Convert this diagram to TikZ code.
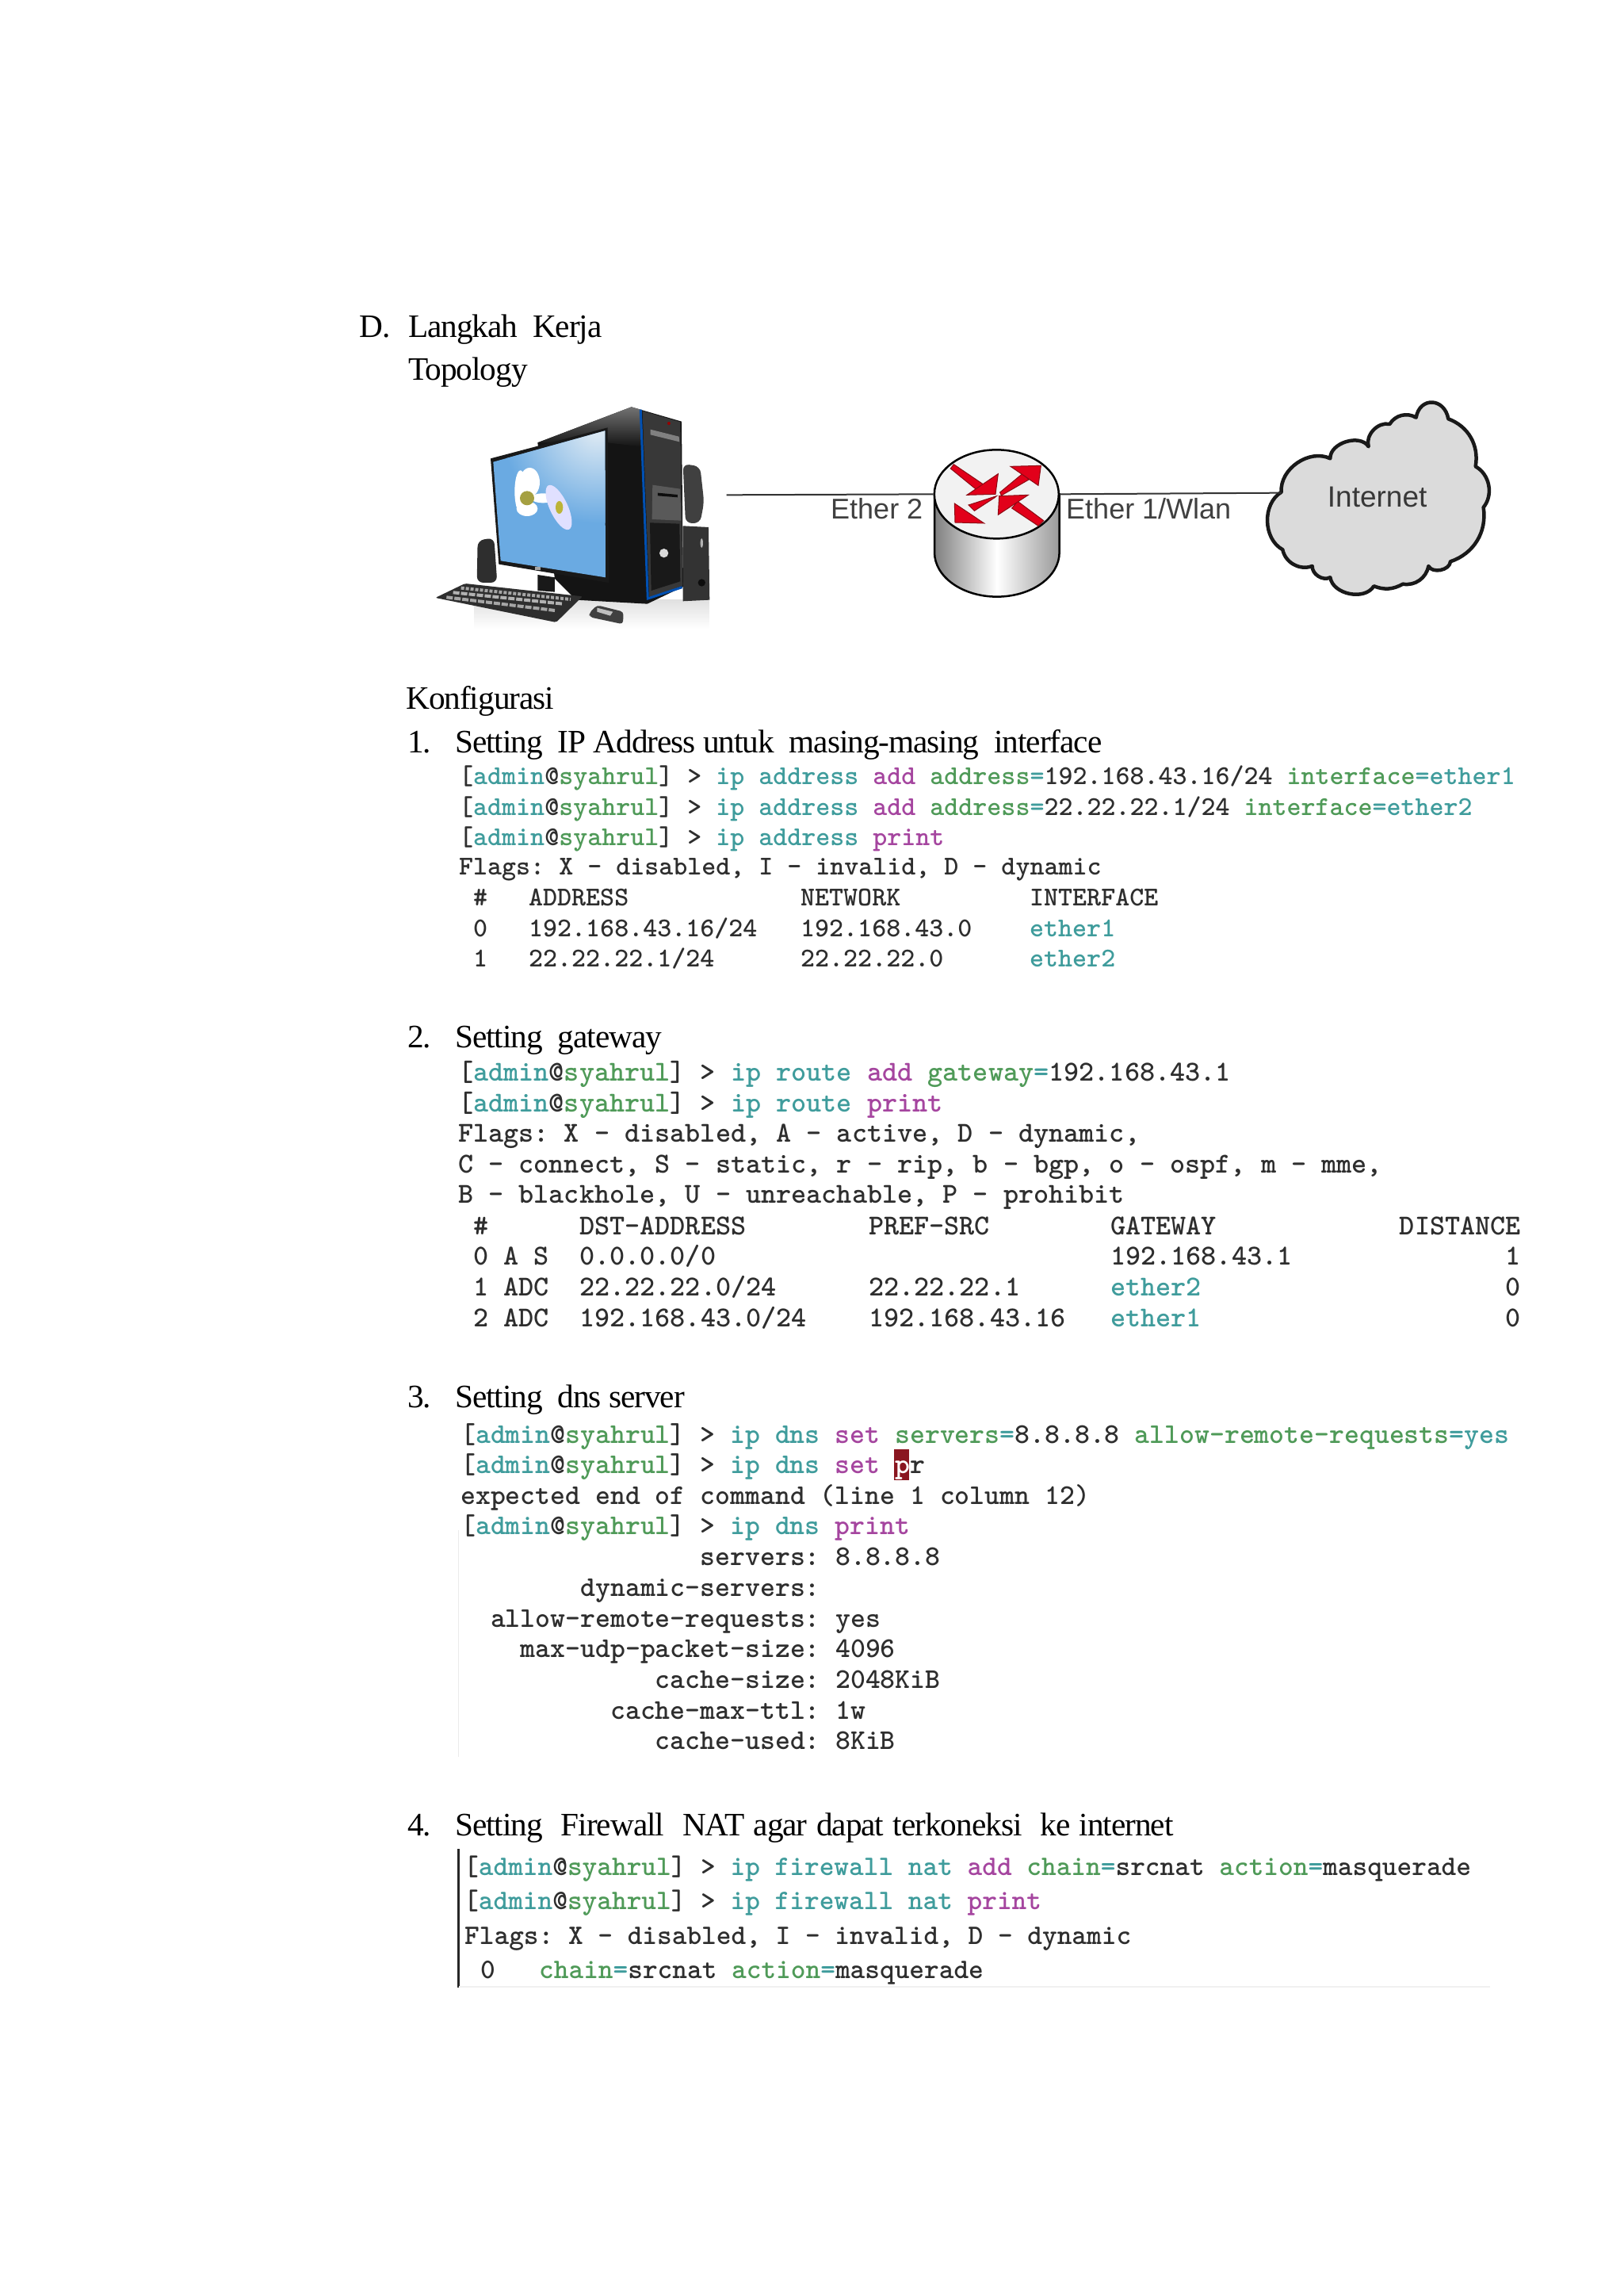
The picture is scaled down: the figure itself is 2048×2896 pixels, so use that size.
\documentclass[tikz,border=0pt]{standalone}
\usepackage{fontspec}
\setmainfont{Liberation Serif}[LetterSpace=-2.5]
\newfontfamily\labelfont{Liberation Sans}
\usetikzlibrary{shapes.geometric, arrows.meta}
\definecolor{scrteal}{HTML}{3F9C9C}
\definecolor{scrgreen}{HTML}{4F9A58}
\definecolor{scrpurple}{HTML}{A5459F}
\definecolor{scrdark}{HTML}{2E2E2E}
\definecolor{routerred}{HTML}{E2001A}
\definecolor{routerdark}{HTML}{8C0A14}
\definecolor{cursorred}{HTML}{8A1620}
\definecolor{screenblue}{HTML}{6AAAE2}
\definecolor{screenpale}{HTML}{E2ECF4}
\newcommand{\prm}{\textcolor{scrdark}{[}\textcolor{scrteal}{admin}\textcolor{scrdark}{@}\textcolor{scrgreen}{syahrul}\textcolor{scrdark}{]~>}~}
\newcommand{\tl}[1]{\textcolor{scrteal}{#1}}
\newcommand{\gr}[1]{\textcolor{scrgreen}{#1}\textcolor{scrteal}{=}}
\newcommand{\pu}[1]{\textcolor{scrpurple}{#1}}
\tikzset{
    bodytxt/.style={anchor=base west, inner sep=0pt, font=\fontsize{41.3}{48}\selectfont},
    scrone/.style={anchor=base west, inner sep=0pt, text=scrdark, font=\ttfamily\bfseries\fontsize{34.3}{40}\selectfont},
    scrtwo/.style={anchor=base west, inner sep=0pt, text=scrdark, font=\ttfamily\bfseries\fontsize{36.4}{42}\selectfont},
    scrthree/.style={anchor=base west, inner sep=0pt, text=scrdark, font=\ttfamily\bfseries\fontsize{36}{42}\selectfont},
    scrfour/.style={anchor=base west, inner sep=0pt, text=scrdark, font=\ttfamily\bfseries\fontsize{35.6}{42}\selectfont},
    toplabel/.style={anchor=base west, inner sep=0pt, text=black!75, font=\labelfont\fontsize{36}{42}\selectfont},
    zoomed/.style={x=0.3333pt, y=-0.3333pt},
    link/.style={line width=2pt, black!80}
}
\begin{document}
\frenchspacing
\begin{tikzpicture}[x=1pt, y=-1pt]
    \useasboundingbox (0,0) rectangle (2048,2896);
    \fill[white] (0,0) rectangle (2048,2896);

    \node[bodytxt] (secd) at (453,425) {D.};
    \node[bodytxt] (langkah) at (515,425) {Langkah\ \ Kerja};
    \node[bodytxt] (topology) at (515,479) {Topology};

    % computer
    \begin{scope}[shift={(540,500)}, zoomed]
        \shade[top color=black!12, bottom color=white] (175,770) rectangle (1065,880);
        \fill[black!75, rounded corners=8pt] (965,255) -- (1030,265) -- (1045,400) -- (1030,480) -- (975,480) -- cycle;
        \fill[black!80] (965,490) -- (1062,495) -- (1066,770) -- (965,775) -- cycle;
        \fill[black!95] (1036,705) circle (14);
        \fill[black!30] (1036,555) ellipse (5 and 18);
        \fill[black!92] (415,175) -- (770,40) -- (960,95) -- (966,720) -- (830,785) -- (560,770) -- (480,690) -- cycle;
        \shade[top color=black!55, bottom color=black!92] (415,175) -- (770,40) -- (805,50) -- (805,190) -- (680,175) -- cycle;
        \fill[black!78] (812,55) -- (955,97) -- (964,716) -- (838,762) -- cycle;
        \draw[line width=3pt, blue!55!cyan!70!black] (805,50) -- (832,765) -- (962,722);
        \fill[black!50] (842,125) -- (950,152) -- (952,172) -- (842,145) -- cycle;
        \fill[black!65] (850,335) -- (955,350) -- (958,470) -- (848,465) -- cycle;
        \fill[black!95] (870,365) -- (945,372) -- (945,382) -- (870,376) -- cycle;
        \fill[black!90] (840,478) -- (952,482) -- (955,700) -- (845,735) -- cycle;
        \fill[black!15] (893,593) circle (17);
        \fill[red!60!black] (912,102) circle (6);
        \fill[black!90] (237,235) -- (680,118) -- (684,705) -- (268,635) -- cycle;
        \begin{scope}
            \clip (247,248) -- (670,130) -- (672,685) -- (275,622) -- cycle;
            \fill[screenblue] (240,120) rectangle (680,700);
            \shade[inner color=screenpale, outer color=screenblue] (640,120) circle (360);
        \end{scope}
        \fill[white] (385,325) ellipse (38 and 55);
        \fill[white] (435,385) ellipse (45 and 18);
        \fill[white] (350,360) ellipse (22 and 80);
        \fill[white] (375,425) ellipse (40 and 28);
        \fill[white!88!blue, rotate around={25:(495,420)}] (495,420) ellipse (34 and 92);
        \fill[yellow!60!black] (375,385) circle (27);
        \fill[yellow!70!black] (497,420) ellipse (14 and 24);
        \fill[black!35] (405,646) rectangle (425,656);
        \fill[black!90] (415,675) -- (480,685) -- (480,740) -- (415,735) -- cycle;
        \fill[black!82, rounded corners=8pt] (188,545) -- (250,535) -- (262,705) -- (185,705) -- cycle;
        \fill[black!82, rounded corners=2pt] (28,762) -- (140,708) -- (585,757) -- (485,855) -- cycle;
        \draw[black!30, line width=4pt, dash pattern=on 8pt off 2pt] (95,742) -- (510,785);
        \draw[black!35, line width=4pt, dash pattern=on 4pt off 2pt] (125,725) -- (540,768);
        \draw[black!35, line width=4pt, dash pattern=on 8pt off 2pt] (70,760) -- (480,810);
        \fill[black!75, rounded corners=4pt] (610,820) -- (640,790) -- (740,815) -- (738,862) -- (612,835) -- cycle;
        \fill[black!25] (640,800) -- (700,815) -- (690,830) -- (640,815) -- cycle;
        \coordinate (pcport) at (1130,373);
    \end{scope}

    % router
    \begin{scope}[shift={(1170,555)}, zoomed]
        \shade[left color=black!50, right color=black!40, middle color=white, draw=black, line width=2.5pt] (27,205) -- (27,425) arc[x radius=236.5, y radius=168, start angle=180, end angle=0] -- (500,205) -- cycle;
        \node[ellipse, draw=black, line width=2.5pt, fill=black!5, minimum width=157pt, minimum height=112pt, inner sep=0pt] (router) at (262,205) {};
        \draw[routerdark, fill=routerred, line width=1pt] (100,92) -- (218,172) -- (196,196) -- (88,108) -- cycle;
        \draw[routerdark, fill=routerred, line width=1pt] (268,128) -- (258,205) -- (150,208) -- cycle;
        \draw[routerdark, fill=routerred, line width=1pt] (275,198) -- (362,126) -- (384,150) -- (280,210) -- cycle;
        \draw[routerdark, fill=routerred, line width=1pt] (315,100) -- (430,97) -- (420,172) -- cycle;
        \draw[routerdark, fill=routerred, line width=1pt] (255,218) -- (178,268) -- (156,246) -- (262,212) -- cycle;
        \draw[routerdark, fill=routerred, line width=1pt] (103,240) -- (105,312) -- (215,315) -- cycle;
        \draw[routerdark, fill=routerred, line width=1pt] (440,305) -- (420,325) -- (320,258) -- (342,232) -- cycle;
        \draw[routerdark, fill=routerred, line width=1pt] (268,283) -- (272,212) -- (382,208) -- cycle;
    \end{scope}

    % cloud
    \begin{scope}[shift={(1590,490)}, zoomed]
        \draw[line width=4.5pt, black!90, fill=black!14, line join=round] (265,265) to[bend left=75] (410,220) to[bend left=60] (490,135) to[bend left=45] (590,110) to[out=80, in=100, looseness=1.7] (712,115) to[bend left=40] (815,295) to[bend left=50] (845,450) to[bend left=40] (720,655) to[bend left=75] (637,672) to[bend left=45] (540,740) to[bend left=25] (430,748) to[bend left=70] (265,715) to[bend left=60] (197,672) to[bend left=50] (85,610) to[bend left=60] (80,392) to[bend left=60] cycle;
        \coordinate (cloudport) at (80,395);
        \node[anchor=base, inner sep=0pt, text=black!78, font=\labelfont\fontsize{37}{42}\selectfont] (internet) at (443,450) {Internet};
    \end{scope}

    \draw[link] (pcport) -- (router.west);
    \draw[link] (router.east) -- (cloudport);
    \node[toplabel] (ethertwo) at (1048,654) {Ether 2};
    \node[toplabel] (etherone) at (1345,654) {Ether 1/Wlan};

    \node[bodytxt] (konfig) at (512,894) {Konfigurasi};

    \node[bodytxt] (numone) at (514,949) {1.};
    \node[bodytxt] (stepone) at (574,949) {Setting\ \ IP Address untuk\ \ masing-masing\ \ interface};
    \node[scrone] (oa) at (579,989) {\prm\tl{ip address} \pu{add} \gr{address}192.168.43.16/24 \gr{interface}\tl{ether1}};
    \node[scrone] (ob) at (579,1028) {\prm\tl{ip address} \pu{add} \gr{address}22.22.22.1/24 \gr{interface}\tl{ether2}};
    \node[scrone] (oc) at (579,1066) {\prm\tl{ip address} \pu{print}};
    \node[scrone] (od) at (579,1103) {Flags: X - disabled, I - invalid, D - dynamic};
    \node[scrone] (oha) at (597,1142) {\#};
    \node[scrone] (ohb) at (667,1142) {ADDRESS};
    \node[scrone] (ohc) at (1010,1142) {NETWORK};
    \node[scrone] (ohd) at (1299,1142) {INTERFACE};
    \node[scrone] (oaa) at (597,1181) {0};
    \node[scrone] (oab) at (667,1181) {192.168.43.16/24};
    \node[scrone] (oac) at (1010,1181) {192.168.43.0};
    \node[scrone] (oad) at (1299,1181) {\tl{ether1}};
    \node[scrone] (oba) at (597,1219) {1};
    \node[scrone] (obb) at (667,1219) {22.22.22.1/24};
    \node[scrone] (obc) at (1010,1219) {22.22.22.0};
    \node[scrone] (obd) at (1299,1219) {\tl{ether2}};

    \node[bodytxt] (numtwo) at (514,1321) {2.};
    \node[bodytxt] (steptwo) at (574,1321) {Setting\ \ gateway};
    \node[scrtwo] (ta) at (578,1363) {\prm\tl{ip route} \pu{add} \gr{gateway}192.168.43.1};
    \node[scrtwo] (tb) at (578,1402) {\prm\tl{ip route} \pu{print}};
    \node[scrtwo] (tc) at (578,1440) {Flags: X - disabled, A - active, D - dynamic,};
    \node[scrtwo] (td) at (578,1479) {C - connect, S - static, r - rip, b - bgp, o - ospf, m - mme,};
    \node[scrtwo] (te) at (578,1517) {B - blackhole, U - unreachable, P - prohibit};
    \node[scrtwo] (tha) at (597,1557) {\#};
    \node[scrtwo] (thb) at (731,1557) {DST-ADDRESS};
    \node[scrtwo] (thc) at (1096,1557) {PREF-SRC};
    \node[scrtwo] (thd) at (1401,1557) {GATEWAY};
    \node[scrtwo, anchor=base east] (the) at (1919,1557) {DISTANCE};
    \node[scrtwo] (taa) at (597,1595) {0 A S};
    \node[scrtwo] (tab) at (731,1595) {0.0.0.0/0};
    \node[scrtwo] (tad) at (1401,1595) {192.168.43.1};
    \node[scrtwo, anchor=base east] (tae) at (1919,1595) {1};
    \node[scrtwo] (tba) at (597,1634) {1 ADC};
    \node[scrtwo] (tbb) at (731,1634) {22.22.22.0/24};
    \node[scrtwo] (tbc) at (1096,1634) {22.22.22.1};
    \node[scrtwo] (tbd) at (1401,1634) {\tl{ether2}};
    \node[scrtwo, anchor=base east] (tbe) at (1919,1634) {0};
    \node[scrtwo] (tca) at (597,1673) {2 ADC};
    \node[scrtwo] (tcb) at (731,1673) {192.168.43.0/24};
    \node[scrtwo] (tcc) at (1096,1673) {192.168.43.16};
    \node[scrtwo] (tcd) at (1401,1673) {\tl{ether1}};
    \node[scrtwo, anchor=base east] (tce) at (1919,1673) {0};

    \node[bodytxt] (numthree) at (514,1775) {3.};
    \node[bodytxt] (stepthree) at (574,1775) {Setting\ \ dns\ server};
    \fill[cursorred] (1128,1828) rectangle (1147,1867);
    \draw[black!8, line width=1pt] (578,1930) -- (578,2216);
    \node[scrthree] (da) at (581,1820) {\prm\tl{ip dns} \pu{set} \gr{servers}8.8.8.8 \gr{allow-remote-requests}\tl{yes}};
    \node[scrthree] (db) at (581,1858) {\prm\tl{ip dns} \pu{set} \textcolor{white}{p}r};
    \node[scrthree] (dc) at (581,1897) {expected end of command (line 1 column 12)};
    \node[scrthree] (dd) at (581,1935) {\prm\tl{ip dns} \pu{print}};
    \node[scrthree, anchor=base east] (dal) at (1035,1974) {servers:};
    \node[scrthree] (dav) at (1054,1974) {8.8.8.8};
    \node[scrthree, anchor=base east] (dbl) at (1035,2013) {dynamic-servers:};
    \node[scrthree, anchor=base east] (dcl) at (1035,2052) {allow-remote-requests:};
    \node[scrthree] (dcv) at (1054,2052) {yes};
    \node[scrthree, anchor=base east] (ddl) at (1035,2090) {max-udp-packet-size:};
    \node[scrthree] (ddv) at (1054,2090) {4096};
    \node[scrthree, anchor=base east] (del) at (1035,2129) {cache-size:};
    \node[scrthree] (dev) at (1054,2129) {2048KiB};
    \node[scrthree, anchor=base east] (dfl) at (1035,2168) {cache-max-ttl:};
    \node[scrthree] (dfv) at (1054,2168) {1w};
    \node[scrthree, anchor=base east] (dgl) at (1035,2206) {cache-used:};
    \node[scrthree] (dgv) at (1054,2206) {8KiB};

    \node[bodytxt] (numfour) at (514,2315) {4.};
    \node[bodytxt] (stepfour) at (574,2315) {\spaceskip=11.4pt Setting\ \ Firewall\ \ NAT agar dapat terkoneksi\ \ ke internet};
    \draw[black!85, line width=2.5pt] (578.5,2332) -- (578.5,2507);
    \draw[black!6, line width=2pt] (578.5,2506) -- (1880,2506);
    \node[scrfour] (fa) at (585,2365) {\prm\tl{ip firewall nat} \pu{add} \gr{chain}srcnat \gr{action}masquerade};
    \node[scrfour] (fb) at (585,2408) {\prm\tl{ip firewall nat} \pu{print}};
    \node[scrfour] (fc) at (586,2452) {Flags: X - disabled, I - invalid, D - dynamic};
    \node[scrfour] (fd) at (606,2495) {0};
    \node[scrfour] (fe) at (680,2495) {\gr{chain}srcnat \gr{action}masquerade};
\end{tikzpicture}
\end{document}
